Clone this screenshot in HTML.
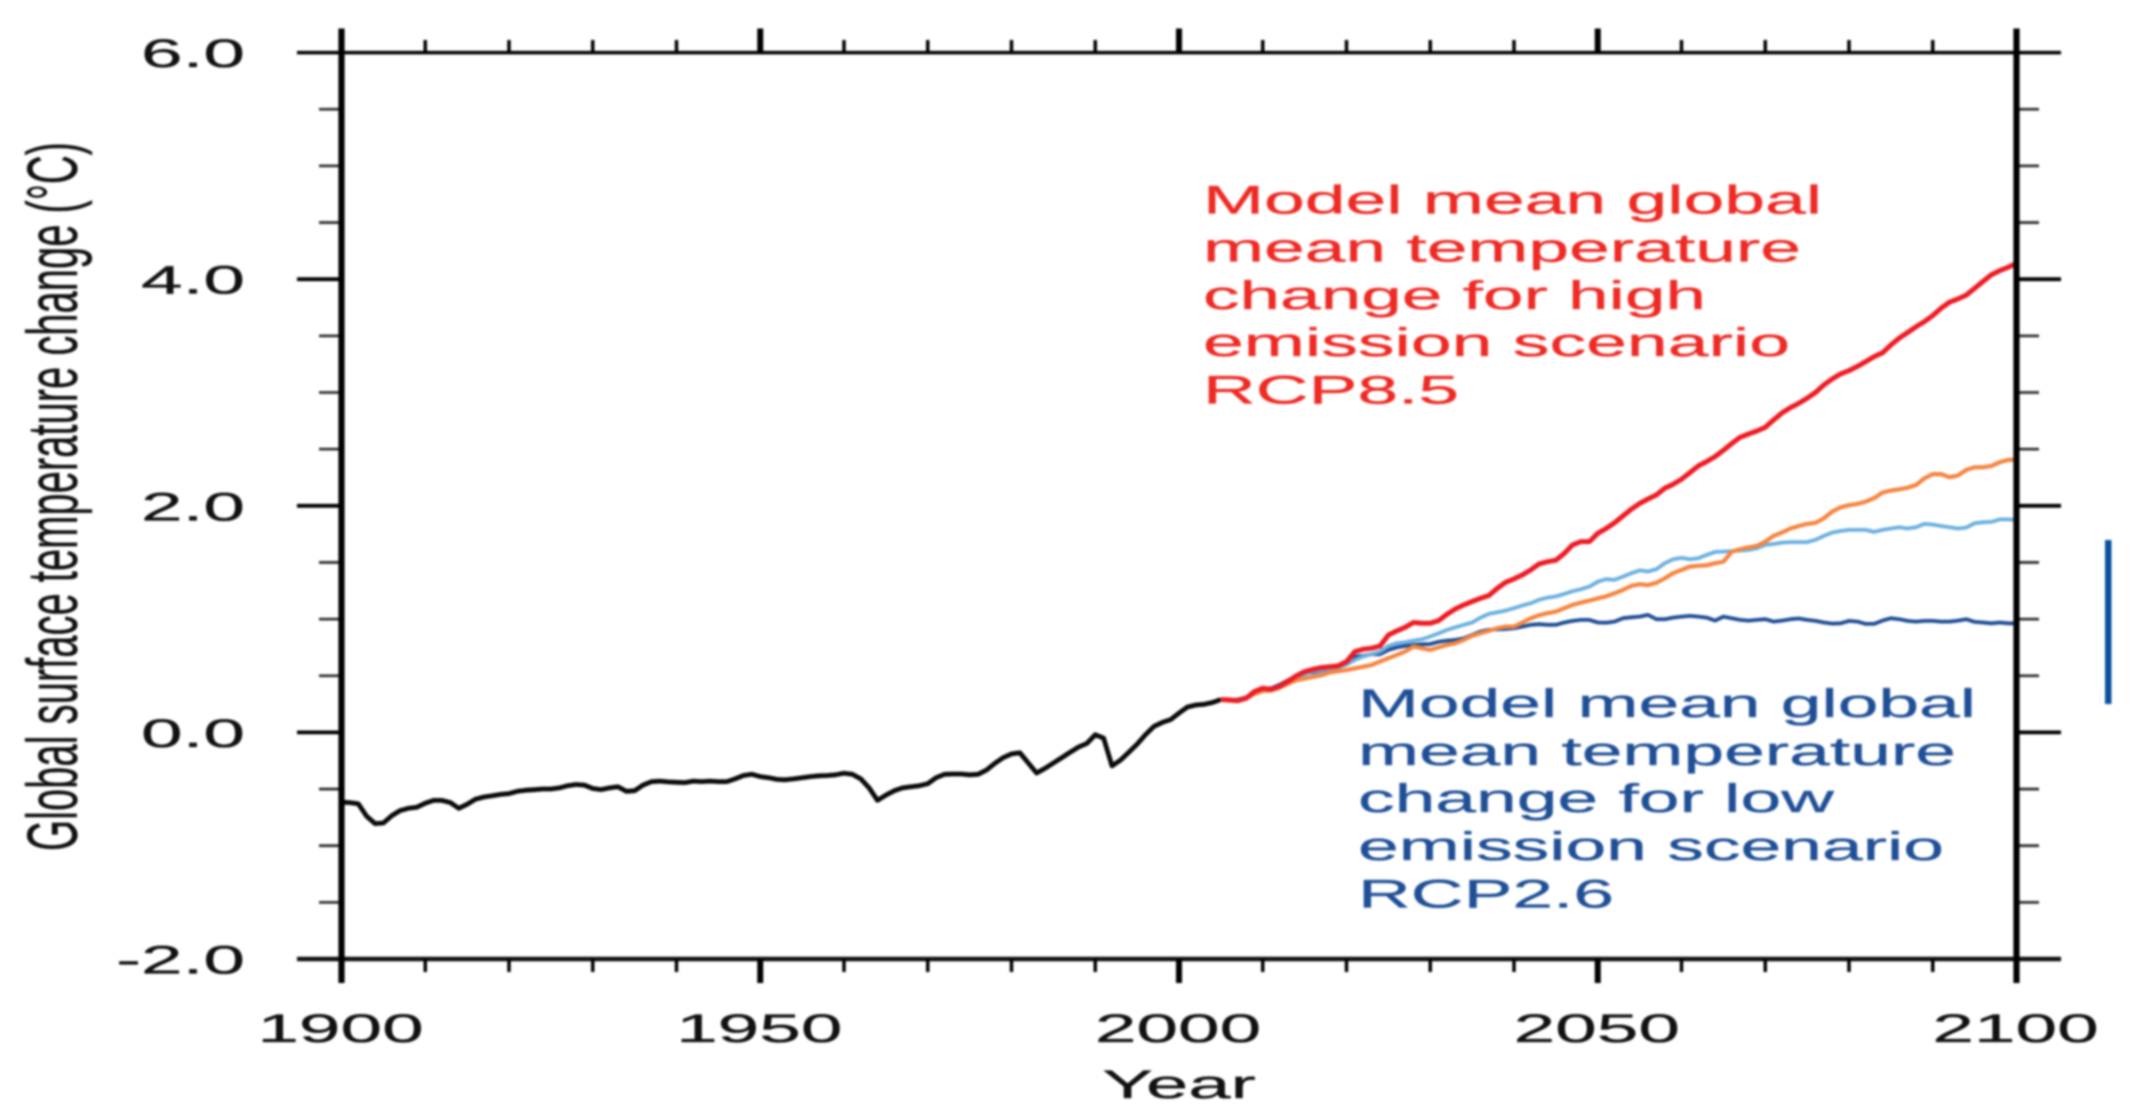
<!DOCTYPE html>
<html lang="en">
<head>
<meta charset="utf-8">
<title>Global surface temperature change</title>
<style>
html,body{margin:0;padding:0;background:#fff;width:2135px;height:1119px;overflow:hidden}
svg{display:block;filter:blur(1px)}
text{font-family:"Liberation Sans",Arial,sans-serif}
</style>
</head>
<body>
<svg id="chart" xmlns="http://www.w3.org/2000/svg" width="2135" height="1119" viewBox="0 0 2135 1119">
  <rect x="0" y="0" width="2135" height="1119" fill="#ffffff"/>
  <g id="series"></g>
  <g id="axes"></g>
  <g id="labels"></g>
  <text transform="translate(77,851) rotate(-90)" font-size="71" fill="#111" stroke="#111" stroke-width="0.3" textLength="709" lengthAdjust="spacingAndGlyphs">Global surface temperature change (°C)</text>
  <text transform="translate(1179,1098) scale(1.9,1)" text-anchor="middle" font-size="40" fill="#111" stroke="#111" stroke-width="0.3">Year</text>
  <g font-size="40" fill="#ee2a24" stroke="#ee2a24" stroke-width="0.3">
    <text x="1203" y="213.5" textLength="619" lengthAdjust="spacingAndGlyphs">Model mean global</text>
    <text x="1203" y="261.5" textLength="598" lengthAdjust="spacingAndGlyphs">mean temperature</text>
    <text x="1203" y="309" textLength="503" lengthAdjust="spacingAndGlyphs">change for high</text>
    <text x="1203" y="356" textLength="587" lengthAdjust="spacingAndGlyphs">emission scenario</text>
    <text x="1203" y="403.5" textLength="256" lengthAdjust="spacingAndGlyphs">RCP8.5</text>
  </g>
  <g font-size="40" fill="#1f4f96" stroke="#1f4f96" stroke-width="0.3">
    <text x="1358" y="717" textLength="618" lengthAdjust="spacingAndGlyphs">Model mean global</text>
    <text x="1358" y="765" textLength="598" lengthAdjust="spacingAndGlyphs">mean temperature</text>
    <text x="1358" y="812" textLength="476" lengthAdjust="spacingAndGlyphs">change for low</text>
    <text x="1358" y="860" textLength="586" lengthAdjust="spacingAndGlyphs">emission scenario</text>
    <text x="1358" y="907.5" textLength="256" lengthAdjust="spacingAndGlyphs">RCP2.6</text>
  </g>
  <rect x="2105" y="540" width="6.5" height="164" fill="#0a4f9e"/>
</svg>
<script>
const historicalStart = 1900;
const scenarioStart = 2005;
const yTickLabels = ["6.0", "4.0", "2.0", "0.0", "-2.0"];
const yTickValues = [6, 4, 2, 0, -2];
const xTickLabels = ["1900", "1950", "2000", "2050", "2100"];
const xTickValues = [1900, 1950, 2000, 2050, 2100];
const historical = [-.616,-.62,-.63,-.74,-.805,-.80,-.735,-.69,-.67,-.66,-.625,-.60,-.60,-.62,-.67,-.635,-.59,-.57,-.56,-.547,-.54,-.52,-.51,-.506,-.50,-.50,-.49,-.47,-.46,-.465,-.495,-.505,-.49,-.48,-.52,-.515,-.465,-.435,-.43,-.437,-.44,-.443,-.43,-.434,-.43,-.434,-.434,-.41,-.38,-.37,-.39,-.40,-.415,-.418,-.41,-.40,-.39,-.383,-.38,-.374,-.36,-.37,-.41,-.49,-.60,-.553,-.515,-.49,-.48,-.47,-.453,-.40,-.37,-.367,-.367,-.374,-.37,-.333,-.274,-.223,-.19,-.18,-.27,-.358,-.318,-.27,-.223,-.176,-.13,-.097,-.02,-.05,-.296,-.245,-.176,-.104,-.02,.053,.088,.113,.17,.223,.242,.248,.264,.29];
const rcp26 = [.29,.285,.29,.31,.35,.385,.39,.42,.46,.50,.52,.53,.545,.56,.575,.60,.67,.675,.69,.69,.728,.75,.763,.772,.778,.78,.80,.81,.816,.83,.86,.89,.905,.91,.913,.92,.934,.95,.955,.95,.95,.97,.984,.993,.993,.97,.968,.978,1.008,1.016,1.022,1.037,.999,.999,1.013,1.022,1.028,1.022,1.013,.987,1.022,1.008,.993,.987,.993,.999,.978,.987,.999,1.005,.993,.984,.97,.96,.963,.984,.978,.958,.958,.987,1.008,.999,.984,.978,.984,.984,.978,.978,.987,.999,.975,.97,.963,.97,.963,.963];
const rcp45 = [.29,.28,.285,.31,.35,.38,.385,.41,.44,.48,.51,.54,.55,.565,.575,.60,.64,.67,.69,.713,.763,.787,.796,.81,.822,.846,.875,.905,.928,.95,.97,1.013,1.046,1.06,1.075,1.096,1.12,1.14,1.17,1.19,1.2,1.222,1.246,1.264,1.287,1.33,1.352,1.346,1.375,1.405,1.43,1.42,1.44,1.493,1.528,1.54,1.528,1.537,1.567,1.593,1.596,1.6,1.605,1.61,1.625,1.655,1.663,1.675,1.68,1.68,1.68,1.70,1.734,1.764,1.778,1.787,1.787,1.787,1.77,1.787,1.80,1.81,1.80,1.81,1.84,1.834,1.822,1.81,1.80,1.808,1.846,1.855,1.858,1.88,1.88,1.875];
const rcp60 = [.29,.28,.28,.30,.34,.365,.37,.395,.43,.46,.475,.49,.505,.53,.54,.55,.566,.58,.596,.625,.655,.684,.713,.757,.743,.728,.75,.772,.787,.816,.852,.875,.896,.92,.934,.934,.97,1.007,1.034,1.052,1.066,1.096,1.125,1.146,1.163,1.184,1.2,1.228,1.258,1.293,1.308,1.30,1.32,1.36,1.405,1.434,1.463,1.47,1.475,1.493,1.507,1.596,1.616,1.634,1.646,1.684,1.734,1.764,1.80,1.822,1.84,1.85,1.89,1.95,1.987,2.005,2.017,2.037,2.067,2.117,2.135,2.146,2.16,2.184,2.243,2.28,2.28,2.252,2.267,2.317,2.34,2.34,2.352,2.385,2.405,2.405];
const rcp85 = [.29,.287,.28,.30,.36,.39,.38,.405,.45,.50,.537,.557,.572,.58,.587,.625,.713,.734,.743,.763,.86,.896,.928,.97,.963,.963,.987,1.043,1.09,1.125,1.155,1.184,1.208,1.272,1.325,1.355,1.39,1.434,1.487,1.507,1.52,1.58,1.655,1.684,1.684,1.757,1.80,1.85,1.91,1.97,2.02,2.06,2.096,2.155,2.19,2.235,2.293,2.352,2.39,2.434,2.49,2.55,2.605,2.634,2.66,2.693,2.758,2.82,2.867,2.905,2.95,3.0,3.067,3.12,3.164,3.193,3.23,3.273,3.317,3.35,3.42,3.48,3.53,3.58,3.626,3.68,3.744,3.797,3.826,3.86,3.92,3.98,4.04,4.076,4.105,4.14];

const NS = 'http://www.w3.org/2000/svg';
function xScale(year) { return 341.5 + (year - 1900) * 8.375; }
function yScale(value) { return 732.4 - value * 113.3; }

function svgEl(tag, parent, attrs) {
  const el = document.createElementNS(NS, tag);
  for (const k in attrs) el.setAttribute(k, attrs[k]);
  parent.appendChild(el);
  return el;
}

function drawSeries(values, startYear, color, width, name) {
  const pts = values.map((v, i) => xScale(startYear + i).toFixed(1) + ',' + yScale(v).toFixed(1)).join(' ');
  const line = svgEl('polyline', document.getElementById('series'), {
    points: pts, fill: 'none', stroke: color, 'stroke-width': width, 'stroke-linejoin': 'round', 'stroke-linecap': 'butt'
  });
  
  
}

drawSeries(historical, historicalStart, '#0a0a0a', 4.8, 'historical-line');
drawSeries(rcp26, scenarioStart, '#1f4e96', 3.8, 'rcp26-line');
drawSeries(rcp45, scenarioStart, '#6bb0e0', 3.8, 'rcp45-line');
drawSeries(rcp60, scenarioStart, '#f58540', 4.2, 'rcp60-line');
drawSeries(rcp85, scenarioStart, '#ed1c24', 5, 'rcp85-line');

const axes = document.getElementById('axes');
function axisLine(x1, y1, x2, y2, w, color, name) {
  const l = svgEl('line', axes, { x1: x1, y1: y1, x2: x2, y2: y2, stroke: color, 'stroke-width': w });
  
  
}

const yTop = yScale(6), yBottom = yScale(-2), xLeft = xScale(1900), xRight = xScale(2100);
axisLine(297, yTop, 2061, yTop, 3.5, '#000', 'top-axis-line');
axisLine(297, yBottom, 2061, yBottom, 4.5, '#111', 'bottom-axis-line');

for (let yr = 1910; yr < 2100; yr += 10) {
  const major = yr % 50 === 0;
  const x = xScale(yr);
  axisLine(x, yTop, x, major ? 28.5 : 40, major ? 6 : 3.5, '#000', 'top-tick');
  axisLine(x, yBottom, x, major ? 983 : 972, major ? 6 : 3.5, '#000', 'bottom-tick');
}
for (let v = -1.5; v < 6; v += 0.5) {
  const major = v % 2 === 0;
  const y = yScale(v);
  const w = major ? 3.8 : 2.8;
  const c = major ? '#000' : '#333';
  axisLine(major ? 297 : 319, y, xLeft, y, w, c, 'left-tick');
  axisLine(xRight, y, major ? 2061 : 2039, y, w, c, 'right-tick');
}
axisLine(xLeft, 28.5, xLeft, 983, 6.2, '#000', 'left-axis-line');
axisLine(xRight, 28.5, xRight, 983, 6.2, '#000', 'right-axis-line');

const labels = document.getElementById('labels');
yTickValues.forEach((v, i) => {
  const t = svgEl('text', labels, {
    transform: 'translate(245,' + (yScale(v) + 14.5) + ') scale(1.87,1)',
    'text-anchor': 'end', 'font-size': 40, fill: '#111', stroke: '#111', 'stroke-width': 0.3
  });
  t.textContent = yTickLabels[i];
  
  
});
xTickValues.forEach((v, i) => {
  const t = svgEl('text', labels, {
    transform: 'translate(' + (xScale(v) - 1) + ',1042) scale(1.87,1)',
    'text-anchor': 'middle', 'font-size': 40, fill: '#111', stroke: '#111', 'stroke-width': 0.3
  });
  t.textContent = xTickLabels[i];
  
  
});
</script>
</body>
</html>
